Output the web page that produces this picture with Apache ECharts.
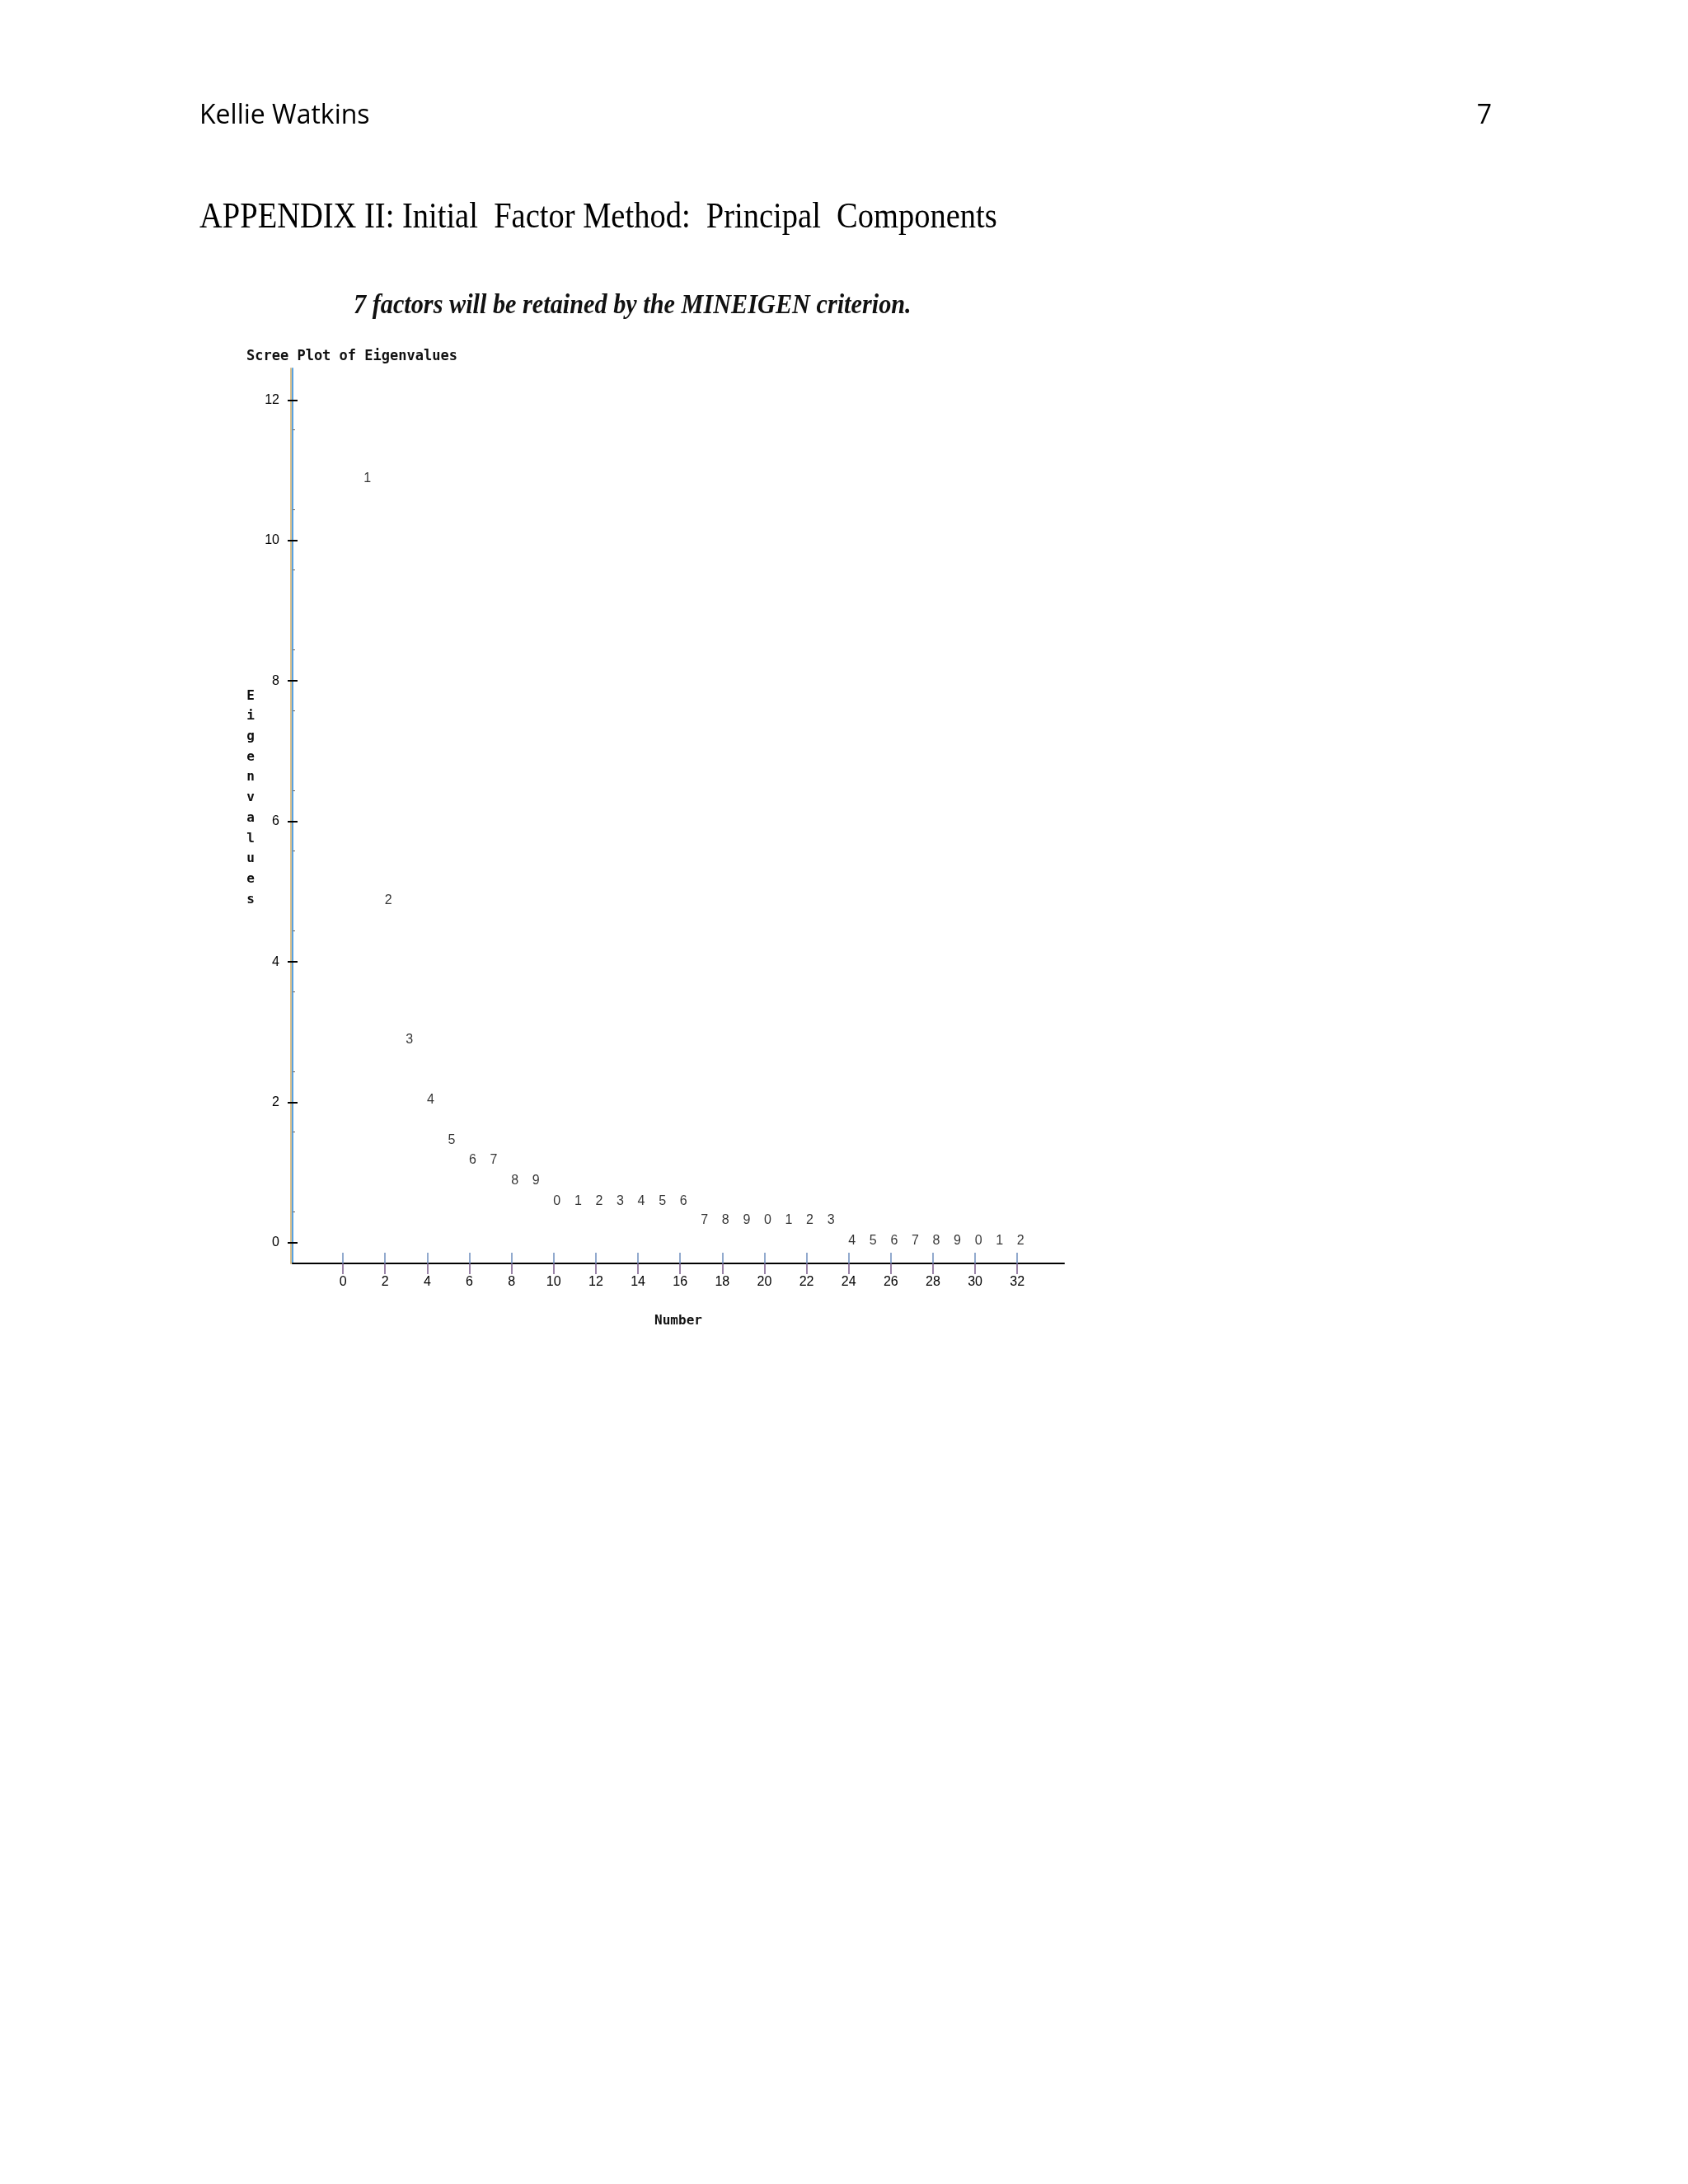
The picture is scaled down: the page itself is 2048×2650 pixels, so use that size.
<!DOCTYPE html>
<html>
<head>
<meta charset="utf-8">
<title>Scree Plot of Eigenvalues</title>
<script src="https://cdn.jsdelivr.net/npm/echarts@6/dist/echarts.min.js"></script>
<style>
  html, body { margin: 0; padding: 0; background: #ffffff; }
  #chart { width: 2048px; height: 2650px; }
</style>
</head>
<body>
<div id="chart"></div>
<script>
// component numbers (x) and eigenvalues (y)
const components = [1, 2, 3, 4, 5, 6, 7, 8, 9, 10, 11, 12, 13, 14, 15, 16,
  17, 18, 19, 20, 21, 22, 23, 24, 25, 26, 27, 28, 29, 30, 31, 32]
const eigenvalues = [10.88, 4.87, 2.89, 2.04, 1.46, 1.18, 1.18, 0.89, 0.89,
  0.59, 0.59, 0.59, 0.59, 0.59, 0.59, 0.59,
  0.32, 0.32, 0.32, 0.32, 0.32, 0.32, 0.32,
  0.03, 0.03, 0.03, 0.03, 0.03, 0.03, 0.03, 0.03, 0.03]

// tick labels
const xTicks = [0, 2, 4, 6, 8, 10, 12, 14, 16, 18, 20, 22, 24, 26, 28, 30, 32]
const yTicks = [0, 2, 4, 6, 8, 10, 12]
const yMinorTicks = [0.44, 1.58, 2.44, 3.58, 4.44, 5.58, 6.44, 7.58, 8.44, 9.58, 10.44, 11.58]

let points = components.map((c, i) => [c, eigenvalues[i]])

let mainNode = document.getElementById("chart")
let chart = echarts.init(mainNode, null, { renderer: "canvas" })

const tickFont = { fontFamily: "Liberation Sans", fontSize: 16, color: "#000" }
const mono = "DejaVu Sans Mono"
const xRange = { min: -2.39, max: 34.22 }
const yRange = { min: -0.293, max: 12.45 }

let option = {
  backgroundColor: "#ffffff",
  animation: false,
  grid: { left: 355, right: 757, top: 447, bottom: 1117 },
  xAxis: [{
    type: "value", min: xRange.min, max: xRange.max,
    axisLine: { show: true, onZero: false, lineStyle: { color: "#000", width: 2 } },
    axisTick: { show: true, length: 13, customValues: xTicks, lineStyle: { color: "#7a5c8c", width: 1.5 } },
    axisLabel: Object.assign({ margin: 15, customValues: xTicks }, tickFont),
    splitLine: { show: false },
    name: "Number", nameLocation: "middle", nameGap: 62,
    nameTextStyle: { fontFamily: mono, fontSize: 16, fontWeight: "bold", color: "#111" }
  }, {
    // upper half of the crossing ticks
    type: "value", min: xRange.min, max: xRange.max, position: "bottom",
    axisLine: { show: false, onZero: false },
    axisTick: { show: true, inside: true, length: 13, customValues: xTicks, lineStyle: { color: "#6f8fbf", width: 1.5 } },
    axisLabel: { show: false },
    splitLine: { show: false }
  }],
  yAxis: [{
    type: "value", min: yRange.min, max: yRange.max,
    axisLine: { show: true, onZero: false, lineStyle: { color: "#5aa2e0", width: 2, shadowColor: "#d9c08e", shadowOffsetX: -2, shadowBlur: 0 } },
    axisTick: { show: true, length: 6, customValues: yTicks, lineStyle: { color: "#000", width: 2 } },
    axisLabel: Object.assign({ margin: 16, customValues: yTicks }, tickFont),
    splitLine: { show: false }
  }, {
    type: "value", min: yRange.min, max: yRange.max, position: "left",
    axisLine: { show: false, onZero: false },
    axisTick: { show: true, inside: true, length: 6, customValues: yTicks, lineStyle: { color: "#000", width: 2 } },
    axisLabel: { show: false },
    splitLine: { show: false }
  }, {
    type: "value", min: yRange.min, max: yRange.max, position: "left",
    axisLine: { show: false, onZero: false },
    axisTick: { show: true, inside: true, length: 3, customValues: yMinorTicks, lineStyle: { color: "#666", width: 1 } },
    axisLabel: { show: false },
    splitLine: { show: false }
  }],
  series: [{
    type: "scatter",
    xAxisIndex: 0, yAxisIndex: 0,
    data: points,
    symbolSize: 1,
    itemStyle: { color: "rgba(0,0,0,0)" },
    label: {
      show: true, position: "inside", offset: [4, 0],
      formatter: p => String(p.value[0] % 10),
      fontFamily: "Liberation Sans", fontSize: 16, color: "#000"
    }
  }],
  graphic: [
    { type: "text", x: 242, y: 141,
      style: { text: "Kellie Watkins", font: "32px 'Open Sans'", fill: "#000", textAlign: "left", verticalAlign: "middle" } },
    { type: "text", x: 1801, y: 141,
      style: { text: "7", font: "32px 'Open Sans'", fill: "#000", textAlign: "center", verticalAlign: "middle" } },
    { type: "text", x: 242, y: 264, scaleX: 0.875,
      style: { text: "APPENDIX II: Initial  Factor Method:  Principal  Components", font: "44px 'Liberation Serif'", fill: "#000", textAlign: "left", verticalAlign: "middle" } },
    { type: "text", x: 429, y: 371, scaleX: 0.89,
      style: { text: "7 factors will be retained by the MINEIGEN criterion.", font: "italic bold 34px 'Liberation Serif'", fill: "#111", textAlign: "left", verticalAlign: "middle" } },
    { type: "text", x: 299, y: 433,
      style: { text: "Scree Plot of Eigenvalues", font: "bold 17px 'DejaVu Sans Mono'", fill: "#111", textAlign: "left", verticalAlign: "middle" } },
    { type: "text", x: 304, y: 968,
      style: { text: "E\ni\ng\ne\nn\nv\na\nl\nu\ne\ns", font: "bold 16px 'DejaVu Sans Mono'", lineHeight: 24.7, fill: "#111", textAlign: "center", verticalAlign: "middle" } }
  ]
}

if (option && typeof option === "object") {
  chart.setOption(option)
}
</script>
</body>
</html>
